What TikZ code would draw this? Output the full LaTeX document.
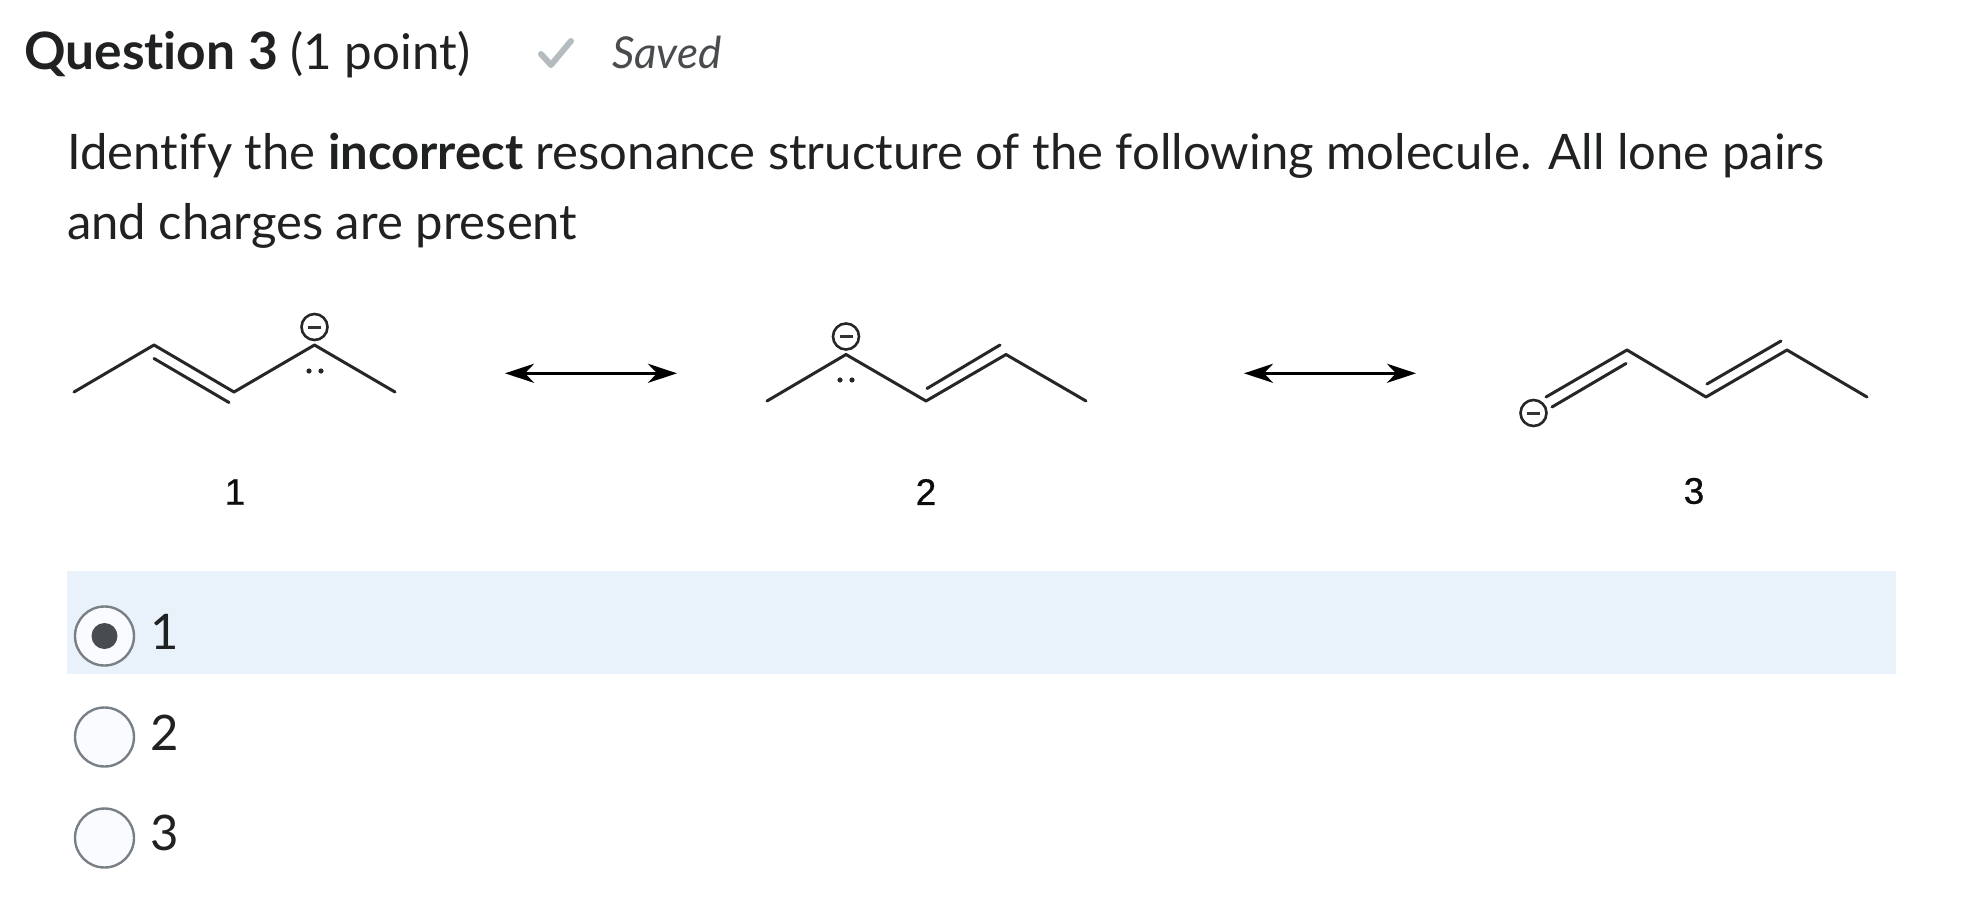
\documentclass[tikz,border=0pt]{standalone}
\usepackage{fontspec}
\setmainfont{Lato}[Ligatures={NoCommon}]
\newfontfamily\molfont{Liberation Sans}[FakeBold=0.7]
\usetikzlibrary{arrows.meta}
\definecolor{ink}{HTML}{202122}
\definecolor{muted}{HTML}{494C4E}
\definecolor{checkgray}{HTML}{B5BCBF}
\definecolor{band}{HTML}{E9F2FB}
\definecolor{radioedge}{HTML}{787F85}
\definecolor{radiofill}{HTML}{F9FBFF}
\tikzset{
  txt/.style={anchor=base west,inner sep=0pt,text=ink,font=\fontsize{49}{58}\selectfont},
  bond/.style={line width=3pt,line cap=round,line join=round,draw=black!85},
  reso/.style={line width=3.4pt,black,{Stealth[length=29pt,width=19pt,inset=9pt]}-{Stealth[length=29pt,width=19pt,inset=9pt]}},
  charge/.style={circle,draw=black!85,line width=2.6pt,minimum size=26pt,inner sep=0pt,
    path picture={\draw[line width=3pt,black!80] ([xshift=-6.5pt]path picture bounding box.center) -- ([xshift=6.5pt]path picture bounding box.center);}},
  lonedot/.style={circle,fill=black!85,inner sep=0pt,minimum size=5.2pt},
  mollabel/.style={inner sep=0pt,text=black!95,font=\molfont\fontsize{37}{40}\selectfont},
  radio/.style={circle,draw=radioedge,fill=radiofill,line width=2.4pt,minimum size=59pt,inner sep=0pt},
}
\begin{document}
\begin{tikzpicture}[x=1pt,y=-1pt]
\useasboundingbox (0,0) rectangle (1988,910);
% header
\node[txt,font=\fontsize{49.3}{58}\selectfont] (qtitle) at (24,69) {{\fontsize{51.5}{58}\selectfont\textbf{Question 3}} (1 point)};
\node[txt,text=muted,font=\itshape\fontsize{44}{48}\selectfont] (saved) at (612,68) {Saved};
\draw[checkgray,line width=6pt,line cap=round,line join=round] (541,54) -- (551,65) -- (571,41);
\node[txt] (l1) at (67,169) {Identify the \textbf{incorrect} resonance structure of the following molecule. All lone pairs};
\node[txt] (l2) at (67,239) {and charges are present};
% molecule 1
\coordinate (a1) at (74,392);
\coordinate (a2) at (154,345);
\coordinate (a3) at (234,392);
\coordinate (a4) at (314.5,345);
\coordinate (a5) at (395,392);
\coordinate (a6) at (154,358.5);
\coordinate (a7) at (229,402.5);
\draw[bond] (a1) -- (a2) -- (a3) -- (a4) -- (a5);
\draw[bond] (a6) -- (a7);
\node[charge] (ca) at (314.5,327) {};
\node[lonedot] (da1) at (309,371) {};
\node[lonedot] (da2) at (321,371) {};
\node[mollabel] (n1) at (235,492) {1};
% arrow 1
\coordinate (r1) at (505,373.3);
\coordinate (r2) at (677,373.3);
\draw[reso] (r1) -- (r2);
% molecule 2
\coordinate (b1) at (767,401);
\coordinate (b2) at (846,354.5);
\coordinate (b3) at (926,401);
\coordinate (b4) at (1006,354.5);
\coordinate (b5) at (1086,401);
\coordinate (b6) at (927,388.5);
\coordinate (b7) at (1000,345);
\draw[bond] (b1) -- (b2) -- (b3) -- (b4) -- (b5);
\draw[bond] (b6) -- (b7);
\node[charge] (cb) at (846,336.5) {};
\node[lonedot] (db1) at (840,380) {};
\node[lonedot] (db2) at (852,380) {};
\node[mollabel] (n2) at (926,492) {2};
% arrow 2
\coordinate (s1) at (1244,373.3);
\coordinate (s2) at (1416,373.3);
\draw[reso] (s1) -- (s2);
% molecule 3
\coordinate (c1) at (1546,397);
\coordinate (c2) at (1627,350);
\coordinate (c3) at (1706,397);
\coordinate (c4) at (1787,350);
\coordinate (c5) at (1867,397);
\coordinate (c6) at (1552,407);
\coordinate (c7) at (1626,363.5);
\coordinate (c8) at (1707,384);
\coordinate (c9) at (1781,341);
\draw[bond] (c1) -- (c2) -- (c3) -- (c4) -- (c5);
\draw[bond] (c6) -- (c7);
\draw[bond] (c8) -- (c9);
\node[charge] (cc) at (1533.5,413) {};
\node[mollabel] (n3) at (1694,491) {3};
% options
\fill[band] (66.5,571) rectangle (1896,673.5);
\node[radio] (o1) at (104.5,636) {};
\node[circle,fill=muted,inner sep=0pt,minimum size=26pt] (o1dot) at (104.5,636) {};
\node[radio] (o2) at (104.5,737) {};
\node[radio] (o3) at (104.5,838) {};
\node[txt] (t1) at (150,649) {1};
\node[txt] (t2) at (150,750) {2};
\node[txt] (t3) at (150,850.5) {3};
\end{tikzpicture}
\end{document}
